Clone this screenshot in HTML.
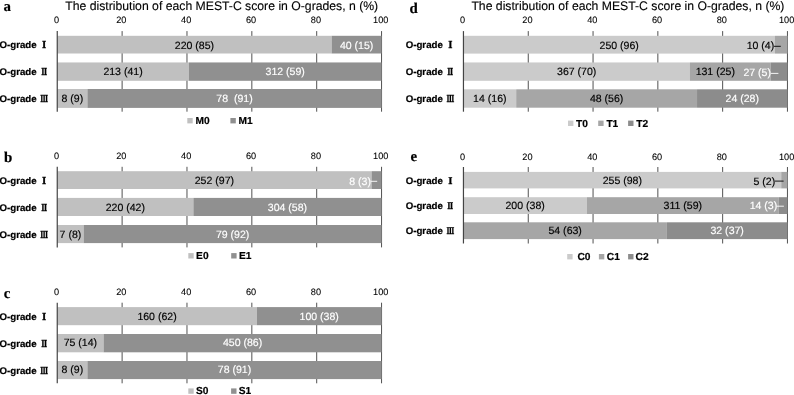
<!DOCTYPE html>
<html><head><meta charset="utf-8"><title>MEST-C score distribution in O-grades</title>
<style>
html,body{margin:0;padding:0;background:#fff;}
svg{display:block;text-rendering:geometricPrecision;font-family:"Liberation Sans","Noto Sans CJK SC",sans-serif;fill:#000;}
svg text{white-space:pre;}
.serif{font-family:"Liberation Serif","Noto Serif CJK SC",serif;}
.rn{font-family:"DejaVu Serif","Noto Serif CJK SC",serif;font-weight:bold;stroke:#000;stroke-width:0.3px;}
</style></head><body>
<svg width="794" height="395" viewBox="0 0 794 395">
<rect width="794" height="395" fill="#fff"/>
<g id="panel-a">
<line x1="122.11" y1="31.1" x2="122.11" y2="111.7" stroke="#484848" stroke-width="0.95"/>
<line x1="186.97" y1="31.1" x2="186.97" y2="111.7" stroke="#484848" stroke-width="0.95"/>
<line x1="251.83" y1="31.1" x2="251.83" y2="111.7" stroke="#484848" stroke-width="0.95"/>
<line x1="316.69" y1="31.1" x2="316.69" y2="111.7" stroke="#484848" stroke-width="0.95"/>
<line x1="381.55" y1="31.1" x2="381.55" y2="111.7" stroke="#484848" stroke-width="0.95"/>
<rect x="57.25" y="35.8" width="274.41" height="17.70" fill="#c0c0c0"/>
<text x="194.45" y="48.53" font-size="10.55" fill="#000" stroke="#000" stroke-width="0.15" text-anchor="middle" xml:space="preserve">220 (85)</text>
<rect x="331.66" y="35.8" width="49.89" height="17.70" fill="#909090"/>
<text x="356.60" y="48.53" font-size="10.55" fill="#fff" stroke="#fff" stroke-width="0.15" text-anchor="middle" xml:space="preserve">40 (15)</text>
<rect x="57.25" y="62.45" width="131.57" height="18.35" fill="#c0c0c0"/>
<text x="123.04" y="74.88" font-size="10.55" fill="#000" stroke="#000" stroke-width="0.15" text-anchor="middle" xml:space="preserve">213 (41)</text>
<rect x="188.82" y="62.45" width="192.73" height="18.35" fill="#909090"/>
<text x="285.19" y="74.88" font-size="10.55" fill="#fff" stroke="#fff" stroke-width="0.15" text-anchor="middle" xml:space="preserve">312 (59)</text>
<rect x="57.25" y="89.0" width="30.17" height="18.90" fill="#c0c0c0"/>
<text x="72.33" y="101.83" font-size="10.55" fill="#000" stroke="#000" stroke-width="0.15" text-anchor="middle" xml:space="preserve">8 (9)</text>
<rect x="87.42" y="89.0" width="294.13" height="18.90" fill="#909090"/>
<text x="234.48" y="101.83" font-size="10.55" fill="#fff" stroke="#fff" stroke-width="0.15" text-anchor="middle" xml:space="preserve">78  (91)</text>
<line x1="57.25" y1="31.1" x2="57.25" y2="111.7" stroke="#444" stroke-width="1.2"/>
<text x="56.45" y="23.1" font-size="9.2" text-anchor="middle" stroke="#000" stroke-width="0.1">0</text>
<text x="121.31" y="23.1" font-size="9.2" text-anchor="middle" stroke="#000" stroke-width="0.1">20</text>
<text x="186.17" y="23.1" font-size="9.2" text-anchor="middle" stroke="#000" stroke-width="0.1">40</text>
<text x="251.03" y="23.1" font-size="9.2" text-anchor="middle" stroke="#000" stroke-width="0.1">60</text>
<text x="315.89" y="23.1" font-size="9.2" text-anchor="middle" stroke="#000" stroke-width="0.1">80</text>
<text x="380.75" y="23.1" font-size="9.2" text-anchor="middle" stroke="#000" stroke-width="0.1">100</text>
<text x="-0.5" y="47.97" font-size="9.7" font-weight="bold" stroke="#000" stroke-width="0.2">O-grade</text>
<text x="42.00" y="48.27" font-size="9.7" class="rn" textLength="4.2" lengthAdjust="spacingAndGlyphs">Ⅰ</text>
<text x="-0.5" y="75.17" font-size="9.7" font-weight="bold" stroke="#000" stroke-width="0.2">O-grade</text>
<text x="41.15" y="75.47" font-size="9.7" class="rn" textLength="5.9" lengthAdjust="spacingAndGlyphs">Ⅱ</text>
<text x="-0.5" y="102.07" font-size="9.7" font-weight="bold" stroke="#000" stroke-width="0.2">O-grade</text>
<text x="40.20" y="102.37" font-size="9.7" class="rn" textLength="7.8" lengthAdjust="spacingAndGlyphs">Ⅲ</text>
<rect x="187.3" y="118.0" width="5.4" height="5.4" fill="#c0c0c0"/>
<text x="195.40" y="124.07" font-size="10.2" font-weight="bold" stroke="#000" stroke-width="0.2">M0</text>
<rect x="230.4" y="118.0" width="5.4" height="5.4" fill="#909090"/>
<text x="238.40" y="124.07" font-size="10.2" font-weight="bold" stroke="#000" stroke-width="0.2">M1</text>
<text x="3.6" y="11.3" font-size="14.9" font-weight="bold" class="serif" stroke="#000" stroke-width="0.2">a</text>
<text x="65.2" y="10.3" font-size="12.4" stroke="#000" stroke-width="0.12" textLength="313" lengthAdjust="spacingAndGlyphs">The distribution of each MEST-C score in O-grades, n (%)</text>
</g>
<g id="panel-b">
<line x1="122.11" y1="166.79999999999998" x2="122.11" y2="247.39999999999998" stroke="#484848" stroke-width="0.95"/>
<line x1="186.97" y1="166.79999999999998" x2="186.97" y2="247.39999999999998" stroke="#484848" stroke-width="0.95"/>
<line x1="251.83" y1="166.79999999999998" x2="251.83" y2="247.39999999999998" stroke="#484848" stroke-width="0.95"/>
<line x1="316.69" y1="166.79999999999998" x2="316.69" y2="247.39999999999998" stroke="#484848" stroke-width="0.95"/>
<line x1="381.55" y1="166.79999999999998" x2="381.55" y2="247.39999999999998" stroke="#484848" stroke-width="0.95"/>
<rect x="57.25" y="171.2" width="314.32" height="17.80" fill="#c0c0c0"/>
<text x="214.41" y="184.23" font-size="10.55" fill="#000" stroke="#000" stroke-width="0.15" text-anchor="middle" xml:space="preserve">252 (97)</text>
<rect x="371.57" y="171.2" width="9.98" height="17.80" fill="#909090"/>
<text x="370.90" y="185.33" font-size="10.55" fill="#fff" stroke="#fff" stroke-width="0.15" text-anchor="end" xml:space="preserve">8 (3)</text>
<line x1="370.7" y1="181.3" x2="377.2" y2="181.3" stroke="#fff" stroke-width="0.9"/>
<rect x="57.25" y="197.9" width="136.16" height="18.10" fill="#c0c0c0"/>
<text x="125.33" y="210.58" font-size="10.55" fill="#000" stroke="#000" stroke-width="0.15" text-anchor="middle" xml:space="preserve">220 (42)</text>
<rect x="193.41" y="197.9" width="188.14" height="18.10" fill="#909090"/>
<text x="287.48" y="210.58" font-size="10.55" fill="#fff" stroke="#fff" stroke-width="0.15" text-anchor="middle" xml:space="preserve">304 (58)</text>
<rect x="57.25" y="225.0" width="26.40" height="18.10" fill="#c0c0c0"/>
<text x="70.45" y="237.53" font-size="10.55" fill="#000" stroke="#000" stroke-width="0.15" text-anchor="middle" xml:space="preserve">7 (8)</text>
<rect x="83.65" y="225.0" width="297.90" height="18.10" fill="#909090"/>
<text x="232.60" y="237.53" font-size="10.55" fill="#fff" stroke="#fff" stroke-width="0.15" text-anchor="middle" xml:space="preserve">79 (92)</text>
<line x1="57.25" y1="166.79999999999998" x2="57.25" y2="247.39999999999998" stroke="#444" stroke-width="1.2"/>
<text x="56.45" y="158.79999999999998" font-size="9.2" text-anchor="middle" stroke="#000" stroke-width="0.1">0</text>
<text x="121.31" y="158.79999999999998" font-size="9.2" text-anchor="middle" stroke="#000" stroke-width="0.1">20</text>
<text x="186.17" y="158.79999999999998" font-size="9.2" text-anchor="middle" stroke="#000" stroke-width="0.1">40</text>
<text x="251.03" y="158.79999999999998" font-size="9.2" text-anchor="middle" stroke="#000" stroke-width="0.1">60</text>
<text x="315.89" y="158.79999999999998" font-size="9.2" text-anchor="middle" stroke="#000" stroke-width="0.1">80</text>
<text x="380.75" y="158.79999999999998" font-size="9.2" text-anchor="middle" stroke="#000" stroke-width="0.1">100</text>
<text x="-0.5" y="183.67" font-size="9.7" font-weight="bold" stroke="#000" stroke-width="0.2">O-grade</text>
<text x="42.00" y="183.97" font-size="9.7" class="rn" textLength="4.2" lengthAdjust="spacingAndGlyphs">Ⅰ</text>
<text x="-0.5" y="210.87" font-size="9.7" font-weight="bold" stroke="#000" stroke-width="0.2">O-grade</text>
<text x="41.15" y="211.17" font-size="9.7" class="rn" textLength="5.9" lengthAdjust="spacingAndGlyphs">Ⅱ</text>
<text x="-0.5" y="237.77" font-size="9.7" font-weight="bold" stroke="#000" stroke-width="0.2">O-grade</text>
<text x="40.20" y="238.07" font-size="9.7" class="rn" textLength="7.8" lengthAdjust="spacingAndGlyphs">Ⅲ</text>
<rect x="188.3" y="253.10000000000002" width="5.4" height="5.4" fill="#c0c0c0"/>
<text x="196.10" y="259.17" font-size="10.2" font-weight="bold" stroke="#000" stroke-width="0.2">E0</text>
<rect x="231.2" y="253.10000000000002" width="5.4" height="5.4" fill="#909090"/>
<text x="239.00" y="259.17" font-size="10.2" font-weight="bold" stroke="#000" stroke-width="0.2">E1</text>
<text x="3.9" y="161.6" font-size="14.9" font-weight="bold" class="serif" stroke="#000" stroke-width="0.2">b</text>
</g>
<g id="panel-c">
<line x1="122.11" y1="302.70000000000005" x2="122.11" y2="383.3" stroke="#484848" stroke-width="0.95"/>
<line x1="186.97" y1="302.70000000000005" x2="186.97" y2="383.3" stroke="#484848" stroke-width="0.95"/>
<line x1="251.83" y1="302.70000000000005" x2="251.83" y2="383.3" stroke="#484848" stroke-width="0.95"/>
<line x1="316.69" y1="302.70000000000005" x2="316.69" y2="383.3" stroke="#484848" stroke-width="0.95"/>
<line x1="381.55" y1="302.70000000000005" x2="381.55" y2="383.3" stroke="#484848" stroke-width="0.95"/>
<rect x="57.25" y="307.1" width="199.57" height="18.10" fill="#c0c0c0"/>
<text x="157.03" y="320.13" font-size="10.55" fill="#000" stroke="#000" stroke-width="0.15" text-anchor="middle" xml:space="preserve">160 (62)</text>
<rect x="256.82" y="307.1" width="124.73" height="18.10" fill="#909090"/>
<text x="319.18" y="320.13" font-size="10.55" fill="#fff" stroke="#fff" stroke-width="0.15" text-anchor="middle" xml:space="preserve">100 (38)</text>
<rect x="57.25" y="334.0" width="46.33" height="18.30" fill="#c0c0c0"/>
<text x="80.41" y="346.48" font-size="10.55" fill="#000" stroke="#000" stroke-width="0.15" text-anchor="middle" xml:space="preserve">75 (14)</text>
<rect x="103.58" y="334.0" width="277.97" height="18.30" fill="#909090"/>
<text x="242.56" y="346.48" font-size="10.55" fill="#fff" stroke="#fff" stroke-width="0.15" text-anchor="middle" xml:space="preserve">450 (86)</text>
<rect x="57.25" y="361.0" width="30.17" height="18.10" fill="#c0c0c0"/>
<text x="72.33" y="373.43" font-size="10.55" fill="#000" stroke="#000" stroke-width="0.15" text-anchor="middle" xml:space="preserve">8 (9)</text>
<rect x="87.42" y="361.0" width="294.13" height="18.10" fill="#909090"/>
<text x="234.48" y="373.43" font-size="10.55" fill="#fff" stroke="#fff" stroke-width="0.15" text-anchor="middle" xml:space="preserve">78 (91)</text>
<line x1="57.25" y1="302.70000000000005" x2="57.25" y2="383.3" stroke="#444" stroke-width="1.2"/>
<text x="56.45" y="294.70000000000005" font-size="9.2" text-anchor="middle" stroke="#000" stroke-width="0.1">0</text>
<text x="121.31" y="294.70000000000005" font-size="9.2" text-anchor="middle" stroke="#000" stroke-width="0.1">20</text>
<text x="186.17" y="294.70000000000005" font-size="9.2" text-anchor="middle" stroke="#000" stroke-width="0.1">40</text>
<text x="251.03" y="294.70000000000005" font-size="9.2" text-anchor="middle" stroke="#000" stroke-width="0.1">60</text>
<text x="315.89" y="294.70000000000005" font-size="9.2" text-anchor="middle" stroke="#000" stroke-width="0.1">80</text>
<text x="380.75" y="294.70000000000005" font-size="9.2" text-anchor="middle" stroke="#000" stroke-width="0.1">100</text>
<text x="-0.5" y="319.57" font-size="9.7" font-weight="bold" stroke="#000" stroke-width="0.2">O-grade</text>
<text x="42.00" y="319.87" font-size="9.7" class="rn" textLength="4.2" lengthAdjust="spacingAndGlyphs">Ⅰ</text>
<text x="-0.5" y="346.77" font-size="9.7" font-weight="bold" stroke="#000" stroke-width="0.2">O-grade</text>
<text x="41.15" y="347.07" font-size="9.7" class="rn" textLength="5.9" lengthAdjust="spacingAndGlyphs">Ⅱ</text>
<text x="-0.5" y="373.67" font-size="9.7" font-weight="bold" stroke="#000" stroke-width="0.2">O-grade</text>
<text x="40.20" y="373.97" font-size="9.7" class="rn" textLength="7.8" lengthAdjust="spacingAndGlyphs">Ⅲ</text>
<rect x="188.3" y="388.40000000000003" width="5.4" height="5.4" fill="#c0c0c0"/>
<text x="196.00" y="394.47" font-size="10.2" font-weight="bold" stroke="#000" stroke-width="0.2">S0</text>
<rect x="231.1" y="388.40000000000003" width="5.4" height="5.4" fill="#909090"/>
<text x="238.70" y="394.47" font-size="10.2" font-weight="bold" stroke="#000" stroke-width="0.2">S1</text>
<text x="3.7" y="297.75" font-size="14.9" font-weight="bold" class="serif" stroke="#000" stroke-width="0.2">c</text>
</g>
<g id="panel-d">
<line x1="528.25" y1="31.1" x2="528.25" y2="111.7" stroke="#484848" stroke-width="0.95"/>
<line x1="593.05" y1="31.1" x2="593.05" y2="111.7" stroke="#484848" stroke-width="0.95"/>
<line x1="657.85" y1="31.1" x2="657.85" y2="111.7" stroke="#484848" stroke-width="0.95"/>
<line x1="722.65" y1="31.1" x2="722.65" y2="111.7" stroke="#484848" stroke-width="0.95"/>
<line x1="787.45" y1="31.1" x2="787.45" y2="111.7" stroke="#484848" stroke-width="0.95"/>
<rect x="463.45" y="35.8" width="311.54" height="17.80" fill="#cbcbcb"/>
<text x="619.22" y="48.53" font-size="10.55" fill="#000" stroke="#000" stroke-width="0.15" text-anchor="middle" xml:space="preserve">250 (96)</text>
<rect x="774.99" y="35.8" width="12.46" height="17.80" fill="#a6a6a6"/>
<text x="774.20" y="48.53" font-size="10.55" fill="#000" stroke="#000" stroke-width="0.15" text-anchor="end" xml:space="preserve">10 (4)</text>
<line x1="774" y1="46.3" x2="780.8" y2="46.3" stroke="#000" stroke-width="0.9"/>
<rect x="463.45" y="62.45" width="226.49" height="18.35" fill="#cbcbcb"/>
<text x="576.70" y="74.88" font-size="10.55" fill="#000" stroke="#000" stroke-width="0.15" text-anchor="middle" xml:space="preserve">367 (70)</text>
<rect x="689.94" y="62.45" width="80.85" height="18.35" fill="#a6a6a6"/>
<text x="715.30" y="74.88" font-size="10.55" fill="#000" stroke="#000" stroke-width="0.15" text-anchor="middle" xml:space="preserve">131 (25)</text>
<rect x="770.79" y="62.45" width="16.66" height="18.35" fill="#8c8c8c"/>
<text x="771.00" y="75.73" font-size="10.55" fill="#fff" stroke="#fff" stroke-width="0.15" text-anchor="end" xml:space="preserve">27 (5)</text>
<line x1="770.8" y1="73.4" x2="778.4" y2="73.4" stroke="#fff" stroke-width="0.9"/>
<rect x="463.45" y="89.3" width="52.74" height="18.40" fill="#cbcbcb"/>
<text x="489.82" y="101.83" font-size="10.55" fill="#000" stroke="#000" stroke-width="0.15" text-anchor="middle" xml:space="preserve">14 (16)</text>
<rect x="516.19" y="89.3" width="180.84" height="18.40" fill="#a6a6a6"/>
<text x="606.61" y="101.83" font-size="10.55" fill="#000" stroke="#000" stroke-width="0.15" text-anchor="middle" xml:space="preserve">48 (56)</text>
<rect x="697.03" y="89.3" width="90.42" height="18.40" fill="#8c8c8c"/>
<text x="742.24" y="101.83" font-size="10.55" fill="#fff" stroke="#fff" stroke-width="0.15" text-anchor="middle" xml:space="preserve">24 (28)</text>
<line x1="463.45" y1="31.1" x2="463.45" y2="111.7" stroke="#444" stroke-width="1.2"/>
<text x="462.65" y="23.1" font-size="9.2" text-anchor="middle" stroke="#000" stroke-width="0.1">0</text>
<text x="527.45" y="23.1" font-size="9.2" text-anchor="middle" stroke="#000" stroke-width="0.1">20</text>
<text x="592.25" y="23.1" font-size="9.2" text-anchor="middle" stroke="#000" stroke-width="0.1">40</text>
<text x="657.05" y="23.1" font-size="9.2" text-anchor="middle" stroke="#000" stroke-width="0.1">60</text>
<text x="721.85" y="23.1" font-size="9.2" text-anchor="middle" stroke="#000" stroke-width="0.1">80</text>
<text x="786.65" y="23.1" font-size="9.2" text-anchor="middle" stroke="#000" stroke-width="0.1">100</text>
<text x="405.7" y="47.97" font-size="9.7" font-weight="bold" stroke="#000" stroke-width="0.2">O-grade</text>
<text x="448.20" y="48.27" font-size="9.7" class="rn" textLength="4.2" lengthAdjust="spacingAndGlyphs">Ⅰ</text>
<text x="405.7" y="75.17" font-size="9.7" font-weight="bold" stroke="#000" stroke-width="0.2">O-grade</text>
<text x="447.35" y="75.47" font-size="9.7" class="rn" textLength="5.9" lengthAdjust="spacingAndGlyphs">Ⅱ</text>
<text x="405.7" y="102.07" font-size="9.7" font-weight="bold" stroke="#000" stroke-width="0.2">O-grade</text>
<text x="446.40" y="102.37" font-size="9.7" class="rn" textLength="7.8" lengthAdjust="spacingAndGlyphs">Ⅲ</text>
<rect x="568" y="120.6" width="5.4" height="5.4" fill="#cbcbcb"/>
<text x="576.00" y="126.67" font-size="10.2" font-weight="bold" stroke="#000" stroke-width="0.2">T0</text>
<rect x="598.2" y="120.6" width="5.4" height="5.4" fill="#a6a6a6"/>
<text x="606.40" y="126.67" font-size="10.2" font-weight="bold" stroke="#000" stroke-width="0.2">T1</text>
<rect x="628.1" y="120.6" width="5.4" height="5.4" fill="#8c8c8c"/>
<text x="636.20" y="126.67" font-size="10.2" font-weight="bold" stroke="#000" stroke-width="0.2">T2</text>
<text x="409.6" y="12.7" font-size="14.9" font-weight="bold" class="serif" stroke="#000" stroke-width="0.2">d</text>
<text x="471.4" y="10.3" font-size="12.4" stroke="#000" stroke-width="0.12" textLength="313" lengthAdjust="spacingAndGlyphs">The distribution of each MEST-C score in O-grades, n (%)</text>
</g>
<g id="panel-e">
<line x1="528.25" y1="167.0" x2="528.25" y2="243.5" stroke="#484848" stroke-width="0.95"/>
<line x1="593.05" y1="167.0" x2="593.05" y2="243.5" stroke="#484848" stroke-width="0.95"/>
<line x1="657.85" y1="167.0" x2="657.85" y2="243.5" stroke="#484848" stroke-width="0.95"/>
<line x1="722.65" y1="167.0" x2="722.65" y2="243.5" stroke="#484848" stroke-width="0.95"/>
<line x1="787.45" y1="167.0" x2="787.45" y2="243.5" stroke="#484848" stroke-width="0.95"/>
<rect x="463.45" y="171.9" width="317.77" height="16.50" fill="#cbcbcb"/>
<text x="622.33" y="184.23" font-size="10.55" fill="#000" stroke="#000" stroke-width="0.15" text-anchor="middle" xml:space="preserve">255 (98)</text>
<rect x="781.22" y="171.9" width="6.23" height="16.50" fill="#a6a6a6"/>
<text x="775.20" y="185.13" font-size="10.55" fill="#000" stroke="#000" stroke-width="0.15" text-anchor="end" xml:space="preserve">5 (2)</text>
<line x1="775" y1="181.1" x2="783.6" y2="181.1" stroke="#000" stroke-width="0.9"/>
<rect x="463.45" y="197.2" width="123.43" height="16.80" fill="#cbcbcb"/>
<text x="525.16" y="208.88" font-size="10.55" fill="#000" stroke="#000" stroke-width="0.15" text-anchor="middle" xml:space="preserve">200 (38)</text>
<rect x="586.88" y="197.2" width="191.93" height="16.80" fill="#a6a6a6"/>
<text x="682.84" y="208.88" font-size="10.55" fill="#000" stroke="#000" stroke-width="0.15" text-anchor="middle" xml:space="preserve">311 (59)</text>
<rect x="778.81" y="197.2" width="8.64" height="16.80" fill="#8c8c8c"/>
<text x="777.20" y="209.33" font-size="10.55" fill="#fff" stroke="#fff" stroke-width="0.15" text-anchor="end" xml:space="preserve">14 (3)</text>
<line x1="776.5" y1="206.2" x2="783.9" y2="206.2" stroke="#fff" stroke-width="0.9"/>
<rect x="463.45" y="222.3" width="203.44" height="16.80" fill="#a6a6a6"/>
<text x="565.17" y="234.13" font-size="10.55" fill="#000" stroke="#000" stroke-width="0.15" text-anchor="middle" xml:space="preserve">54 (63)</text>
<rect x="666.89" y="222.3" width="120.56" height="16.80" fill="#8c8c8c"/>
<text x="727.17" y="234.13" font-size="10.55" fill="#fff" stroke="#fff" stroke-width="0.15" text-anchor="middle" xml:space="preserve">32 (37)</text>
<line x1="463.45" y1="167.0" x2="463.45" y2="243.5" stroke="#444" stroke-width="1.2"/>
<text x="462.65" y="159.7" font-size="9.2" text-anchor="middle" stroke="#000" stroke-width="0.1">0</text>
<text x="527.45" y="159.7" font-size="9.2" text-anchor="middle" stroke="#000" stroke-width="0.1">20</text>
<text x="592.25" y="159.7" font-size="9.2" text-anchor="middle" stroke="#000" stroke-width="0.1">40</text>
<text x="657.05" y="159.7" font-size="9.2" text-anchor="middle" stroke="#000" stroke-width="0.1">60</text>
<text x="721.85" y="159.7" font-size="9.2" text-anchor="middle" stroke="#000" stroke-width="0.1">80</text>
<text x="786.65" y="159.7" font-size="9.2" text-anchor="middle" stroke="#000" stroke-width="0.1">100</text>
<text x="405.7" y="183.67" font-size="9.7" font-weight="bold" stroke="#000" stroke-width="0.2">O-grade</text>
<text x="448.20" y="183.67" font-size="9.4" class="rn" textLength="4.2" lengthAdjust="spacingAndGlyphs">Ⅰ</text>
<text x="405.7" y="208.77" font-size="9.7" font-weight="bold" stroke="#000" stroke-width="0.2">O-grade</text>
<text x="447.35" y="208.77" font-size="9.4" class="rn" textLength="5.9" lengthAdjust="spacingAndGlyphs">Ⅱ</text>
<text x="405.7" y="234.37" font-size="9.7" font-weight="bold" stroke="#000" stroke-width="0.2">O-grade</text>
<text x="446.40" y="234.37" font-size="9.4" class="rn" textLength="7.8" lengthAdjust="spacingAndGlyphs">Ⅲ</text>
<rect x="567.2" y="254.0" width="5.4" height="5.4" fill="#cbcbcb"/>
<text x="577.40" y="260.07" font-size="10.2" font-weight="bold" stroke="#000" stroke-width="0.2">C0</text>
<rect x="598.9" y="254.0" width="5.4" height="5.4" fill="#a6a6a6"/>
<text x="606.80" y="260.07" font-size="10.2" font-weight="bold" stroke="#000" stroke-width="0.2">C1</text>
<rect x="628.1" y="254.0" width="5.4" height="5.4" fill="#8c8c8c"/>
<text x="635.60" y="260.07" font-size="10.2" font-weight="bold" stroke="#000" stroke-width="0.2">C2</text>
<text x="410.5" y="160.7" font-size="14.9" font-weight="bold" class="serif" stroke="#000" stroke-width="0.2">e</text>
</g>
</svg>
</body></html>
